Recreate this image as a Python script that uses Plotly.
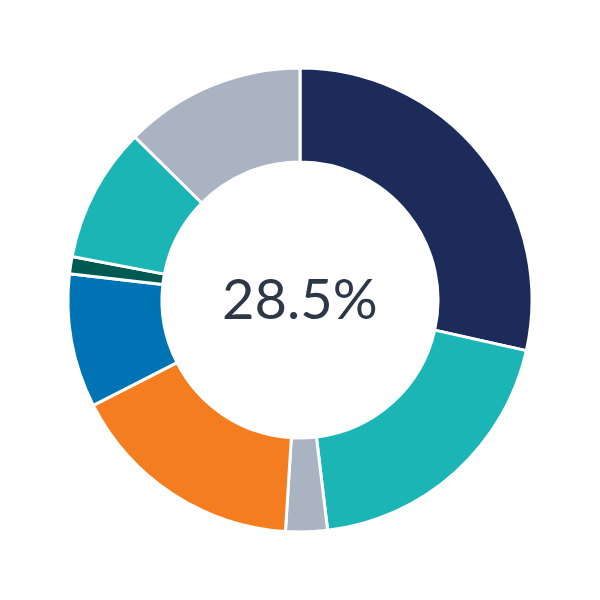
import plotly.graph_objects as go

labels = ["A", "B", "C", "D", "E", "F", "G", "H"]
values = [28.5, 19.6, 2.9, 16.5, 9.3, 1.2, 9.4, 12.6]
colors = ["#1c2b5a", "#1bb5b6", "#a9b3c2", "#f47d20", "#0073b4", "#005a52", "#1bb5b6", "#a9b3c2"]
center_text = "28.5%"

fig = go.Figure(go.Pie(
    labels=labels, values=values, hole=0.595, sort=False, direction="clockwise",
    rotation=0, textinfo="none", hoverinfo="label+percent",
    marker=dict(colors=colors, line=dict(color="white", width=3)),
    showlegend=False,
))
fig.add_annotation(text=center_text, x=0.5, y=0.505, xref="paper", yref="paper",
                   showarrow=False, font=dict(family="Lato", size=56, color="#2c3848"))
fig.update_layout(width=600, height=600, margin=dict(l=60, r=76, t=60, b=76),
                  paper_bgcolor="white", plot_bgcolor="white")
fig.write_html("out.html")
